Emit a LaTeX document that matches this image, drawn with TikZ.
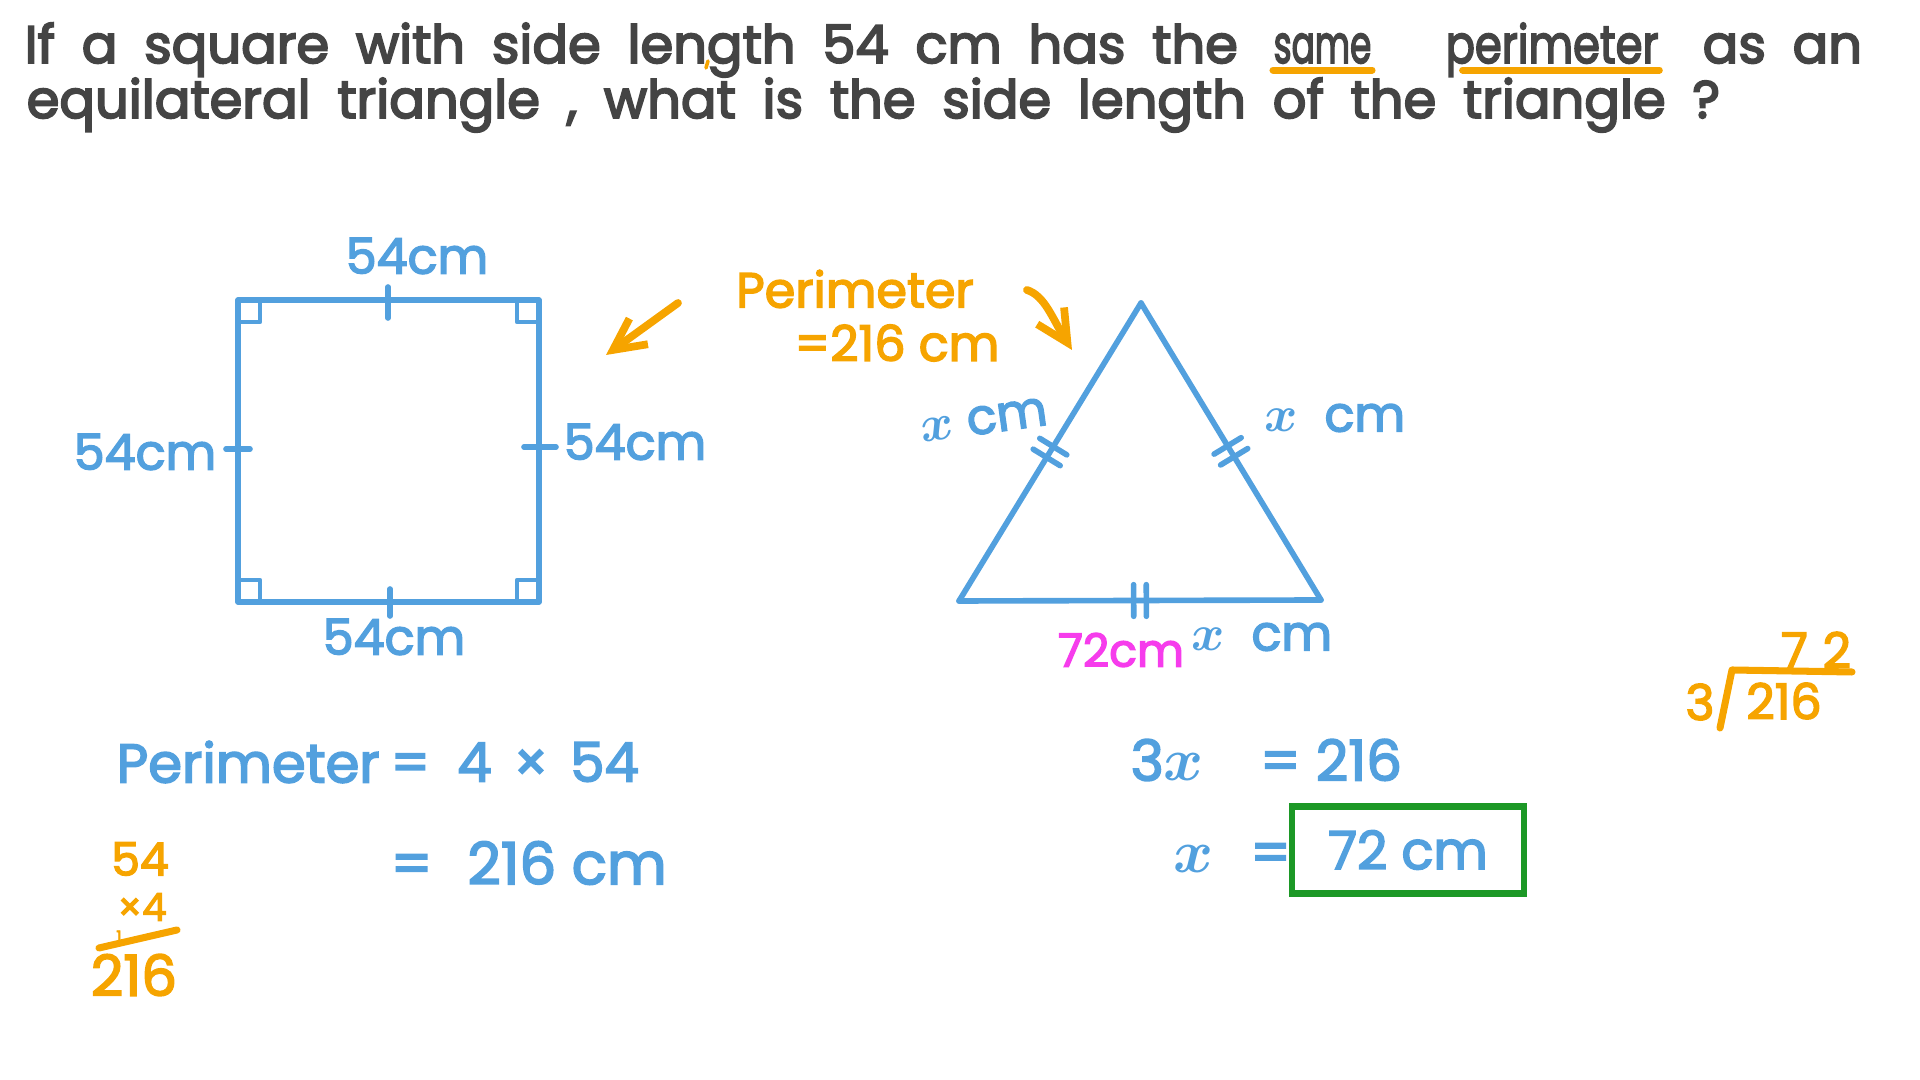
\documentclass[tikz,border=0pt]{standalone}
\usepackage{fontspec}
\setmainfont{Poppins}[FakeBold=3]
\newfontfamily\qfont{Poppins}[WordSpace=1.9, FakeBold=3.5]
\usepackage{graphicx}
\usepackage{tikz}
\usetikzlibrary{arrows.meta}
\usetikzlibrary{decorations.markings}
\usetikzlibrary{positioning}

\definecolor{qgray}{RGB}{68,68,68}
\definecolor{penblue}{RGB}{82,160,222}
\definecolor{penorange}{RGB}{246,164,0}
\definecolor{penpink}{RGB}{246,60,236}
\definecolor{pengreen}{RGB}{28,152,38}

\tikzset{
  pen/.style={line width=1.6pt, line cap=round, line join=round},
  question/.style={text=qgray, font=\qfont\fontsize{15}{18}\selectfont, inner sep=0pt, anchor=base west},
  hand/.style={inner sep=0pt, font=\fontsize{#1}{#1}\selectfont\boldmath},
  twotick/.style={postaction={decorate}, decoration={markings, mark=at position 0.5 with {\draw[pen] (-1.8pt,-4.5pt) -- (-1.8pt,4.5pt) (1.8pt,-4.5pt) -- (1.8pt,4.5pt);}}},
  barb/.style={-{Straight Barb[length=9pt, width=9pt]}}
}

\begin{document}
\begin{tikzpicture}[x=0.01cm, y=-0.01cm]
  \useasboundingbox (0,0) rectangle (1920,1080);

  \node[question] (q1) at (24,63) {If a square with side length 54 cm has the};
  \node[question] (same) at (1273,63) {\scalebox{0.65}[1]{same}};
  \node[question] (perim) at (1445,63) {\scalebox{0.82}[1]{perimeter}};
  \node[question] (asan) at (1702,63) {as an};
  \node[question] (q2) at (26,118) {equilateral triangle , what is the side length of the triangle ?};
  \draw[pen, penorange, line width=2pt] ([yshift=-2pt]same.base west) -- ([yshift=-2pt]same.base east);
  \draw[pen, penorange, line width=2pt] ([xshift=5pt, yshift=-2pt]perim.base west) -- ([yshift=-2pt]perim.base east);
  \draw[pen, penorange, line width=1pt] (708,61) -- (706,68);

  % square
  \draw[pen, penblue] (238,300) rectangle (539,602);
  \foreach \cx/\cy/\dx/\dy in {238/300/22/22, 539/300/-22/22, 238/602/22/-22, 539/602/-22/-22}
    \draw[pen, penblue, line width=1.3pt] (\cx+\dx,\cy) -- (\cx+\dx,\cy+\dy) -- (\cx,\cy+\dy);
  \draw[pen, penblue] (388,287) -- (388,318) (390,589) -- (390,616) (226,449) -- (250,449) (524,447) -- (556,447);

  \node[hand=14, text=penblue] (sqtop) at (417,256) {54cm};
  \node[hand=14, text=penblue] (sqleft) at (145,452) {54cm};
  \node[hand=14, text=penblue] (sqright) at (635,442) {54cm};
  \node[hand=14, text=penblue] (sqbot) at (394,637) {54cm};

  \node[hand=14, text=penorange] (pnote) at (855,289) {Perimeter};
  \node[hand=14, text=penorange] (pval) at (897,343) {=216 cm};
  \coordinate (ltail) at (678,303);
  \coordinate (lhead) at (606,355);
  \draw[pen, penorange, line width=2.2pt, barb] (ltail) -- (lhead);
  \coordinate (rtail) at (1027,290);
  \coordinate (rhead) at (1072,350);
  \draw[pen, penorange, line width=2.2pt, barb] (rtail) .. controls (1045,296) and (1052,318) .. (rhead);

  % triangle
  \coordinate (ta) at (1141,303);
  \coordinate (tb) at (959,601);
  \coordinate (tc) at (1321,600);
  \draw[pen, penblue, twotick] (tb) -- (ta);
  \draw[pen, penblue, twotick] (ta) -- (tc);
  \draw[pen, penblue, twotick] (tb) -- (tc);

  \node[hand=14, text=penblue, rotate=8] (xleft) at (984,420) {$x$ cm};
  \node[hand=14, text=penblue] (xright) at (1335,418) {$x$\ \ cm};
  \node[hand=14, text=penblue] (xbot) at (1262,637) {$x$\ \ cm};
  \node[hand=13, text=penpink] (tval) at (1121,650) {72cm};

  % working
  \node[hand=15.5, text=penblue, anchor=west] (peq) at (116,762) {Perimeter};
  \node[hand=15.5, text=penblue, anchor=west] (peqr) at (390,762) {=\hspace{.5em}4\hspace{.4em}×\hspace{.4em}54};
  \node[hand=16.5, text=penblue, anchor=west] (pres) at (390,863) {=\hspace{.6em}216 cm};

  \node[hand=13, text=penorange] (m1) at (140,859) {54};
  \node[hand=11, text=penorange] (m2) at (142,907) {×4};
  \node[hand=5, text=penorange] (carry) at (119,937) {1};
  \draw[pen, penorange, line width=2pt] (99,948) -- (177,930);
  \node[hand=16, text=penorange] (m3) at (134,975) {216};

  \node[hand=16, text=penblue, anchor=west] (teq) at (1130,760) {3$x$\hspace{1em}= 216};
  \node[hand=16, text=penblue, anchor=west] (tres) at (1173,858) {$x$\hspace{.65em}=};
  \node[hand=15, text=penblue, draw=pengreen, line width=1.8pt, minimum width=2.32cm, minimum height=0.87cm] (ans) at (1408,850) {72 cm};

  \node[hand=14, text=penorange] (dq) at (1816,650) {7\hspace{.3em}2};
  \draw[pen, penorange, line width=2pt] (1852,672) -- (1732,670) -- (1720,728);
  \node[hand=14, text=penorange] (dd) at (1700,702) {3};
  \node[hand=14, text=penorange] (dn) at (1784,701) {216};
\end{tikzpicture}
\end{document}
